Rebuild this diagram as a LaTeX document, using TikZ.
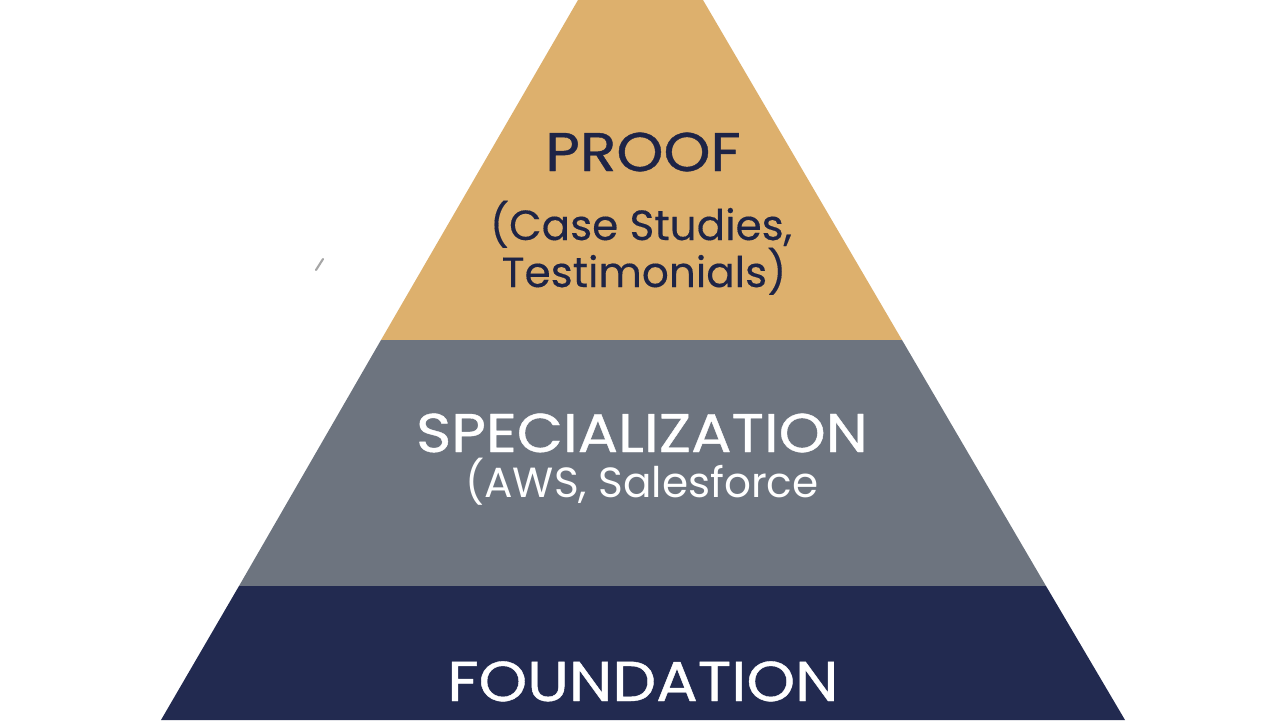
\documentclass[tikz,border=0pt]{standalone}
\usepackage{fontspec}
\usepackage{graphicx}
\setmainfont{Poppins}
\newfontfamily\tierfont{Poppins}[FakeBold=0.7]
\newfontfamily\tierlight{Poppins}[FakeBold=0.3]
\definecolor{tiergold}{HTML}{DDB06D}
\definecolor{tiergrey}{HTML}{6D747F}
\definecolor{tiernavy}{HTML}{222A50}
\definecolor{inkblue}{HTML}{1E2446}
\newcommand{\widecaps}[1]{\scalebox{1.1}[1]{#1}}
\begin{document}
\begin{tikzpicture}[x=0.02cm, y=-0.02cm,
    tiertitle/.style={anchor=base, inner sep=0pt, font=\tierfont\fontsize{31}{38}\selectfont},
    tiersub/.style={anchor=base, inner sep=0pt, font=\tierlight\fontsize{24}{29}\selectfont}]
    \useasboundingbox (0,0) rectangle (1280,720);
    \clip (0,0) rectangle (1280,720);

    % Corners of the three tiers
    \coordinate (topL) at (578,0);
    \coordinate (topR) at (703,0);
    \coordinate (midL) at (381,340);
    \coordinate (midR) at (902,340);
    \coordinate (lowL) at (239,586);
    \coordinate (lowR) at (1046,586);
    \coordinate (botL) at (161,720);
    \coordinate (botR) at (1125,720);

    % Tiers
    \fill[tiergold] (topL) -- (topR) -- (midR) -- (midL) -- cycle;
    \fill[tiergrey] (midL) -- (midR) -- (lowR) -- (lowL) -- cycle;
    \fill[tiernavy] (lowL) -- (lowR) -- (botR) -- (botL) -- cycle;

    % Labels
    \node[tiertitle, text=inkblue] (proof) at (643,171) {\widecaps{PROOF}};
    \node[tiersub, text=inkblue] (proofa) at (641,240) {(Case Studies,};
    \node[tiersub, text=inkblue] (proofb) at (644,287) {Testimonials)};
    \node[tiertitle, text=white] (spec) at (642,452) {\widecaps{SPECIALIZATION}};
    \node[tiersub, text=white, font=\fontsize{24}{29}\selectfont] (speca) at (642,497) {(AWS, Salesforce};
    \node[tiertitle, text=white, font=\tierfont\fontsize{32}{38}\selectfont] (found) at (643,701) {\widecaps{FOUNDATION}};

    % Stray mark
    \draw[gray!70, line width=1.2pt, line cap=round] (316,270) -- (323,259);
\end{tikzpicture}
\end{document}
